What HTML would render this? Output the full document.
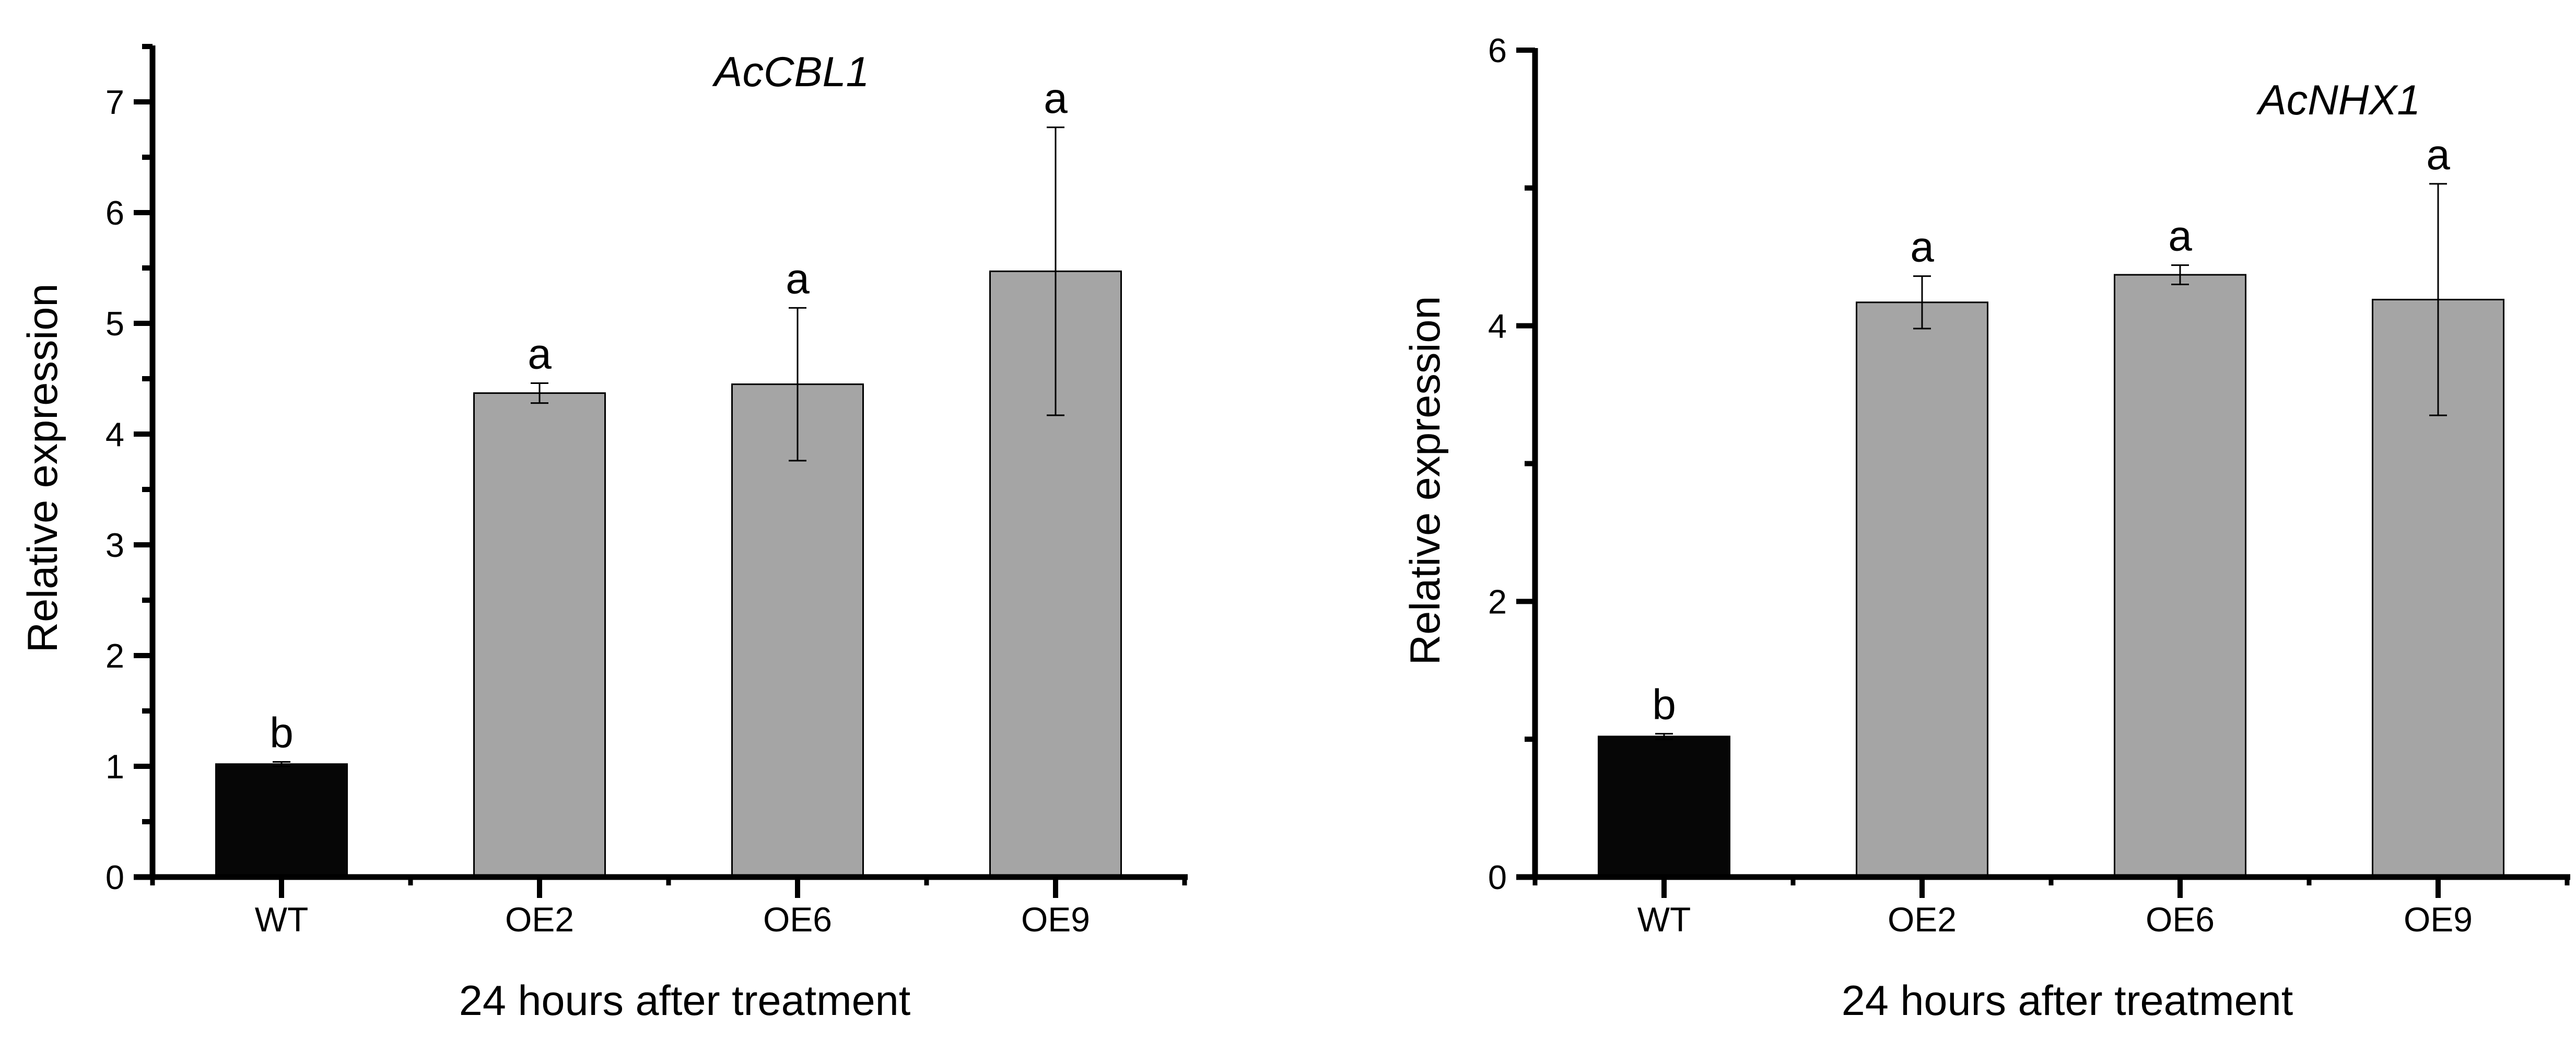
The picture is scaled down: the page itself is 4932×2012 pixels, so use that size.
<!DOCTYPE html>
<html><head><meta charset="utf-8"><style>
html,body{margin:0;padding:0;background:#fff;}
svg{display:block;font-family:"Liberation Sans",Arial,sans-serif;}
</style></head><body>
<svg id="fig" width="4932" height="2012" viewBox="0 0 4932 2012" xmlns="http://www.w3.org/2000/svg">
<rect width="4932" height="2012" fill="#fff"/>
</svg>
<script>
const categories = ["WT","OE2","OE6","OE9"];
const cblValues = [1.02, 4.37, 4.45, 5.47];
const cblErrors = [0.02, 0.09, 0.69, 1.30];
const cblLetters = ["b","a","a","a"];
const cblTicks = [0,1,2,3,4,5,6,7];
const nhxValues = [1.02, 4.17, 4.37, 4.19];
const nhxErrors = [0.02, 0.19, 0.07, 0.84];
const nhxLetters = ["b","a","a","a"];
const nhxTicks = [0,2,4,6];

const NS = "http://www.w3.org/2000/svg";
const svg = document.getElementById("fig");
function mk(tag, attrs, parent, text){
  const e = document.createElementNS(NS, tag);
  for (const k in attrs) e.setAttribute(k, attrs[k]);
  if (text !== undefined) e.textContent = text;
  (parent||svg).appendChild(e);
  return e;
}

function drawPanel(opt){
  const g = mk("g", {});
  
  
  const ox = opt.ox;
  const axisX = ox + 292, zeroY = 1679, topY = opt.topY, yMax = opt.yMax;
  const groupW = 494, barW = 251;
  const y = v => zeroY - (v / yMax) * (zeroY - opt.yAtMax);
  const xc = i => axisX + groupW * (i + 0.5);

  opt.values.forEach((v, i) => {
    const r = mk("rect", {x: xc(i) - barW/2, y: y(v), width: barW, height: zeroY - y(v),
      fill: i === 0 ? "#060606" : "#a5a5a5", stroke: "#000", "stroke-width": 3}, g);
    
    
    const e = opt.errors[i];
    const eb = mk("path", {d: `M${xc(i)} ${y(v+e)}V${y(v-e)}M${xc(i)-17} ${y(v+e)}H${xc(i)+17}M${xc(i)-17} ${y(v-e)}H${xc(i)+17}`,
      stroke: "#000", "stroke-width": 3, fill: "none"}, g);
    
    
    const lt = mk("text", {x: xc(i), y: y(v+e) - 28, "font-size": 82, "text-anchor": "middle", fill: "#000"}, g, opt.letters[i]);
    
    
  });

  const ya = mk("line", {x1: axisX, y1: topY, x2: axisX, y2: zeroY + 5, stroke: "#000", "stroke-width": 11}, g);
  
  
  opt.ticks.forEach(t => {
    mk("line", {x1: axisX - 36, y1: y(t), x2: axisX, y2: y(t), stroke: "#000", "stroke-width": 10}, g);
    const tl = mk("text", {x: axisX - 54, y: y(t) + 23, "font-size": 65, "text-anchor": "end", fill: "#000"}, g, String(t));
    
    
    const m = t + opt.minorStep;
    if (m <= opt.yTopVal) mk("line", {x1: axisX - 20, y1: y(m), x2: axisX, y2: y(m), stroke: "#000", "stroke-width": 10}, g);
  });

  const xEnd = axisX + groupW * 4;
  const xa = mk("line", {x1: axisX - 36, y1: zeroY, x2: xEnd + 6, y2: zeroY, stroke: "#000", "stroke-width": 11}, g);
  
  
  for (let k = 0; k <= 4; k++) {
    const bx = axisX + groupW * k;
    mk("line", {x1: bx, y1: zeroY, x2: bx, y2: zeroY + 16, stroke: "#000", "stroke-width": 9}, g);
  }
  categories.forEach((c, i) => {
    mk("line", {x1: xc(i), y1: zeroY, x2: xc(i), y2: zeroY + 40, stroke: "#000", "stroke-width": 10}, g);
    const cl = mk("text", {x: xc(i), y: 1783, "font-size": 66, "text-anchor": "middle", fill: "#000"}, g, c);
    
    
  });

  const xt = mk("text", {x: ox + 1311, y: 1943, "font-size": 81, "text-anchor": "middle", fill: "#000"}, g, "24 hours after treatment");
  
  
  const yt = mk("text", {x: 0, y: 0, "font-size": 81, "text-anchor": "middle", fill: "#000",
    transform: `translate(${ox + 109},${opt.yTitleY}) rotate(-90)`}, g, "Relative expression");
  
  
  const tt = mk("text", {x: opt.titleX, y: opt.titleY, "font-size": 81, "font-style": "italic", "text-anchor": "middle", fill: "#000"}, g, opt.title);
  
  
}

drawPanel({name: "acbl1-panel", ox: 0, topY: 87, yMax: 7, yAtMax: 195, yTopVal: 7.5, minorStep: 0.5,
  values: cblValues, errors: cblErrors, letters: cblLetters, ticks: cblTicks,
  title: "AcCBL1", titleX: 1516, titleY: 165, yTitleY: 896});
drawPanel({name: "acnhx1-panel", ox: 2647, topY: 92, yMax: 6, yAtMax: 96, yTopVal: 6, minorStep: 1,
  values: nhxValues, errors: nhxErrors, letters: nhxLetters, ticks: nhxTicks,
  title: "AcNHX1", titleX: 4479, titleY: 219, yTitleY: 920});
</script>
</body></html>
